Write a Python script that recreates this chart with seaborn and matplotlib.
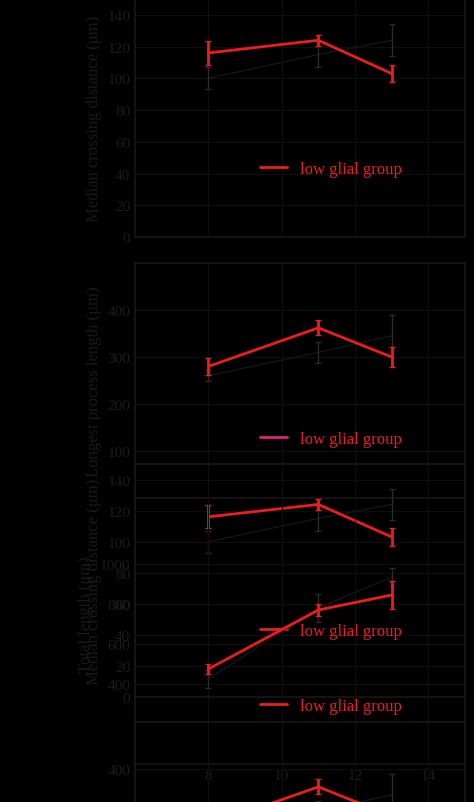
import matplotlib
matplotlib.use("Agg")
import matplotlib.pyplot as plt
import seaborn as sns
import pandas as pd
from matplotlib.lines import Line2D

sns.set_theme(style="white")
plt.rcParams['font.family'] = ['Liberation Serif', 'DejaVu Serif']

days = [8, 11, 13]
cross_low = [116, 124, 103]
cross_low_err = [7.5, 3.5, 5.5]
cross_high = [100, 115, 124]
cross_high_err = [7, 8, 10]
proc_low = [280, 362, 300]
proc_low_err = [18, 16, 22]
proc_high = [260, 310, 345]
proc_high_err = [12, 22, 45]
tot_low = [475, 770, 845]
tot_low_err = [25, 30, 70]
tot_high = [425, 780, 935]
tot_high_err = [45, 70, 45]
xticks = [8, 10, 12, 14]
legend_label = "low glial group"

DARK = "#161616"
RED = "#ee1c1c"
W, H = 474, 803
fig = plt.figure(figsize=(W / 100, H / 100), dpi=100, facecolor="black")

def panel(top_px, bot_px, ylim, yticks, low, low_err, high, high_err, ylabel,
          leg_y=None, leg_color=RED, show_x=False):
    ax = fig.add_axes([135 / W, 1 - bot_px / H, 330 / W, (bot_px - top_px) / H])
    ax.set_facecolor("none")
    df = pd.DataFrame({"day": days, "low": low, "high": high})
    sns.lineplot(data=df, x="day", y="high", ax=ax, color=DARK, lw=1)
    ax.errorbar(days, high, yerr=high_err, fmt="none", ecolor="#2a2a2a", capsize=2, lw=1)
    sns.lineplot(data=df, x="day", y="low", ax=ax, color=RED, lw=2)
    ax.errorbar(days, low, yerr=low_err, fmt="none", ecolor=RED, capsize=2, lw=2)
    ax.set_xlim(6, 15)
    ax.set_ylim(*ylim)
    ax.set_yticks(yticks)
    ax.set_xticks(xticks)
    if not show_x:
        ax.set_xticklabels([])
    ax.tick_params(colors=DARK, labelcolor="#1c1c1c", labelsize=11, direction="in")
    for s in ax.spines.values():
        s.set_color(DARK)
    ax.grid(True, color="#0e0e0e", lw=0.8)
    ax.set_xlabel("")
    ax.set_ylabel(ylabel, color="#1a1a1a", fontsize=12)
    if leg_y is not None:
        h = [Line2D([], [], color=leg_color, lw=2)]
        ax.legend(h, [legend_label], frameon=False, loc="center left",
                  bbox_to_anchor=(110 / 330, 1 - (leg_y - top_px) / (bot_px - top_px)),
                  fontsize=12, labelcolor=RED, handlelength=1.6)
    return ax

panel(0, 238, (0, 150), range(0, 141, 20), cross_low, cross_low_err,
      cross_high, cross_high_err, "Median crossing distance (μm)", leg_y=170)
panel(264, 499, (0, 500), [100, 200, 300, 400], proc_low, proc_low_err,
      proc_high, proc_high_err, "Longest process length (μm)", leg_y=440, leg_color="#e0207a")
panel(465, 698, (0, 150), range(0, 141, 20), cross_low, cross_low_err,
      cross_high, cross_high_err, "Median crossing distance (μm)", leg_y=632)
panel(465, 765, (0, 1500), [400, 600, 800, 1000], tot_low, tot_low_err,
      tot_high, tot_high_err, "Total length (μm)", leg_y=707, show_x=True)
panel(723, 958, (0, 500), [400], proc_low, proc_low_err,
      proc_high, proc_high_err, "")

fig.savefig("out.png", dpi=100, facecolor="black")
